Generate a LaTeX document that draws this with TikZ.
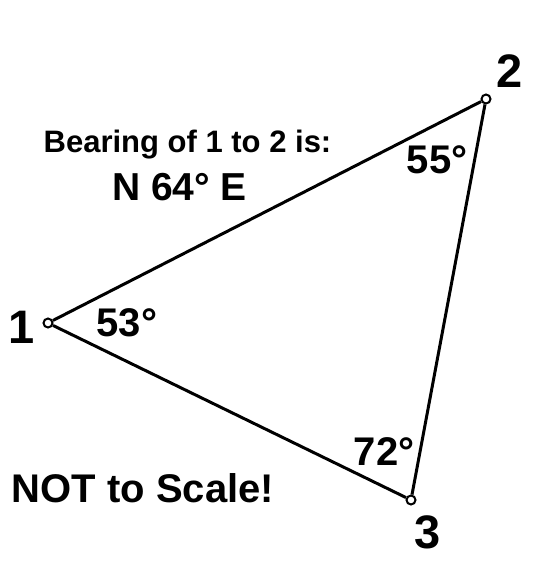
\documentclass[tikz,border=0pt]{standalone}
\usepackage{fontspec}
\setmainfont{Liberation Sans}
\begin{document}
\begin{tikzpicture}[x=1pt,y=-1pt,
        pointnode/.style={circle, draw=black, fill=white, line width=2pt, inner sep=0pt, minimum size=9pt},
        vertexlabel/.style={anchor=base, inner sep=0pt, font=\bfseries\fontsize{47}{50}\selectfont},
        anglelabel/.style={anchor=base, inner sep=0pt, font=\bfseries\fontsize{40}{44}\selectfont},
        textlabel/.style={anchor=base, inner sep=0pt, font=\bfseries\fontsize{#1}{#1}\selectfont},
        ]

        \useasboundingbox (0,0) rectangle (547,570);

        % Points
        \node[pointnode] (p1) at (48,323) { };
        \node[pointnode] (p2) at (486,99) { };
        \node[pointnode] (p3) at (411,500) { };

        % Sides
        \draw[line width=3pt] (p1) -- (p2);
        \draw[line width=3pt] (p2) -- (p3);
        \draw[line width=3pt] (p3) -- (p1);

        % Point labels
        \node[vertexlabel] (l1) at (22,343) {1};
        \node[vertexlabel] (l2) at (510,87) {2};
        \node[vertexlabel] (l3) at (428,548) {3};

        % Angles
        \node[anglelabel] (a1) at (127,336) {53°};
        \node[anglelabel] (a2) at (437,173) {55°};
        \node[anglelabel] (a3) at (384,465) {72°};

        % Notes
        \node[textlabel=31] (bearing) at (187.5,152) {Bearing of 1 to 2 is:};
        \node[textlabel=39] (value) at (179.5,200) {N 64° E};
        \node[textlabel=40] (note) at (143,502) {NOT to Scale!};

    \end{tikzpicture}
\end{document}
